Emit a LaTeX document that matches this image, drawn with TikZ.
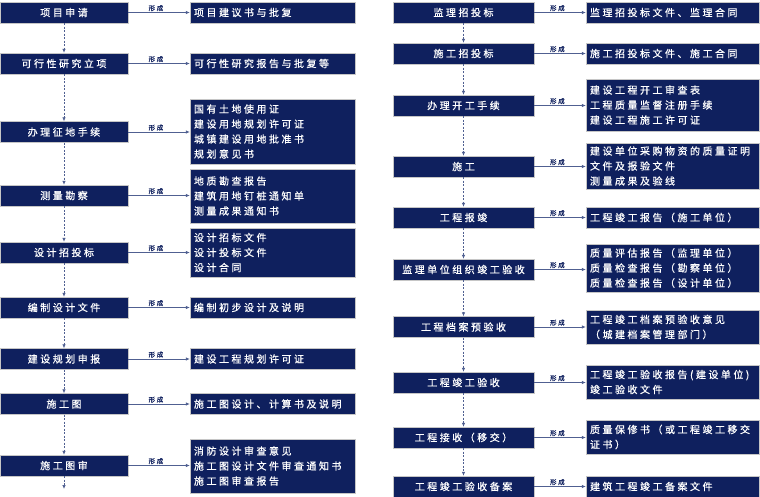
\documentclass[tikz,border=0pt]{standalone}
\usepackage{fontspec}
\setmainfont{Noto Sans CJK SC}[LetterSpace=25,FakeBold=0.6]
\usetikzlibrary{arrows.meta}
\definecolor{navy}{RGB}{15,32,94}
\definecolor{arr}{RGB}{80,96,145}
\tikzset{
  box/.style={fill=navy, draw=gray!45, line width=0.4pt, text=white, inner ysep=0pt, inner xsep=4pt, font=\fontsize{10}{15}\selectfont},
  lbox/.style={box, align=center, minimum width=#1},
  lbox/.default=128,
  rbox/.style={box, align=left, text width=#1},
  rbox/.default=157,
  flow/.style={draw=arr, line width=0.7pt, -{Latex[length=4pt,width=3.5pt]}},
  vflow/.style={flow, dash pattern=on 2pt off 1.5pt},
  lab/.style={font=\fontsize{6.5}{7}\selectfont, text=navy, above, inner sep=1pt, pos=0.45}
}
\begin{document}
\begin{tikzpicture}[x=1pt,y=-1pt]
\fill[white] (0,0) rectangle (760,497);
\useasboundingbox (0,0) rectangle (760,497);
% left column, process boxes
\node[lbox, minimum height=21] (a1) at (64,12.5) {项目申请};
\node[lbox, minimum height=21] (a2) at (64,63.5) {可行性研究立项};
\node[lbox, minimum height=21] (a3) at (64,132) {办理征地手续};
\node[lbox, minimum height=21] (a4) at (64,195.5) {测量勘察};
\node[lbox, minimum height=21] (a5) at (64,252.5) {设计招投标};
\node[lbox, minimum height=21] (a6) at (64,307.5) {编制设计文件};
\node[lbox, minimum height=21] (a7) at (64,359) {建设规划申报};
\node[lbox, minimum height=21] (a8) at (64,404) {施工图};
\node[lbox, minimum height=21] (a9) at (64,465.5) {施工图审};
\coordinate (aend) at (64,489);
% left column, results
\node[rbox, minimum height=21] (b1) at (272.5,12.5) {项目建议书与批复};
\node[rbox, minimum height=21] (b2) at (272.5,63.5) {可行性研究报告与批复等};
\node[rbox, minimum height=65] (b3) at (272.5,131.5) {国有土地使用证\\建设用地规划许可证\\城镇建设用地批准书\\规划意见书};
\node[rbox, minimum height=54] (b4) at (272.5,196) {地质勘查报告\\建筑用地钉桩通知单\\测量成果通知书};
\node[rbox, minimum height=49] (b5) at (272.5,252.5) {设计招标文件\\设计投标文件\\设计合同};
\node[rbox, minimum height=21] (b6) at (272.5,307.5) {编制初步设计及说明};
\node[rbox, minimum height=21] (b7) at (272.5,359) {建设工程规划许可证};
\node[rbox, minimum height=21] (b8) at (272.5,404) {施工图设计、计算书及说明};
\node[rbox, minimum height=54] (b9) at (272.5,466) {消防设计审查意见\\施工图设计文件审查通知书\\施工图审查报告};
% right column, process boxes
\node[lbox=141, minimum height=21] (c1) at (463.5,12.5) {监理招投标};
\node[lbox=141, minimum height=21] (c2) at (463.5,53.5) {施工招投标};
\node[lbox=141, minimum height=21] (c3) at (463.5,105.5) {办理开工手续};
\node[lbox=141, minimum height=21] (c4) at (463.5,166.5) {施工};
\node[lbox=141, minimum height=21] (c5) at (463.5,217.5) {工程报竣};
\node[lbox=141, minimum height=21] (c6) at (463.5,269.5) {监理单位组织竣工验收};
\node[lbox=141, minimum height=21] (c7) at (463.5,327) {工程档案预验收};
\node[lbox=141, minimum height=21] (c8) at (463.5,382.5) {工程竣工验收};
\node[lbox=141, minimum height=21] (c9) at (463.5,437.5) {工程接收（移交）};
\node[lbox=141, minimum height=21] (c10) at (463.5,486.5) {工程竣工验收备案};
% right column, results
\node[rbox=165, minimum height=21] (d1) at (672.5,12.5) {监理招投标文件、监理合同};
\node[rbox=165, minimum height=21] (d2) at (672.5,53.5) {施工招投标文件、施工合同};
\node[rbox=165, minimum height=52] (d3) at (672.5,105) {建设工程开工审查表\\工程质量监督注册手续\\建设工程施工许可证};
\node[rbox=165, minimum height=46] (d4) at (672.5,166) {建设单位采购物资的质量证明\\文件及报验文件\\测量成果及验线};
\node[rbox=165, minimum height=21] (d5) at (672.5,217.5) {工程竣工报告（施工单位）};
\node[rbox=165, minimum height=48] (d6) at (672.5,268) {质量评估报告（监理单位）\\质量检查报告（勘察单位）\\质量检查报告（设计单位）};
\node[rbox=165, minimum height=34] (d7) at (672.5,327) {工程竣工档案预验收意见\\（城建档案管理部门）};
\node[rbox=165, minimum height=34] (d8) at (672.5,382) {工程竣工验收报告(建设单位)\\竣工验收文件};
\node[rbox=165, minimum height=34] (d9) at (672.5,437) {质量保修书（或工程竣工移交\\证书）};
\node[rbox=165, minimum height=21] (d10) at (672.5,486.5) {建筑工程竣工备案文件};
% vertical dashed flow
\foreach \i/\j in {1/2,2/3,3/4,4/5,5/6,6/7,7/8,8/9}{
  \draw[vflow] (a\i.south) -- (a\j.north);
}
\draw[vflow] (a9.south) -- (aend);
\foreach \i/\j in {1/2,2/3,3/4,4/5,5/6,6/7,7/8,8/9,9/10}{
  \draw[vflow] (c\i.south) -- (c\j.north);
}
% horizontal "形成" arrows
\foreach \i in {1,...,9}{
  \draw[flow] (a\i.east) -- (a\i.east -| b\i.west) node[lab]{形成};
}
\foreach \i in {1,...,10}{
  \draw[flow] (c\i.east) -- (c\i.east -| d\i.west) node[lab]{形成};
}
\end{tikzpicture}
\end{document}
